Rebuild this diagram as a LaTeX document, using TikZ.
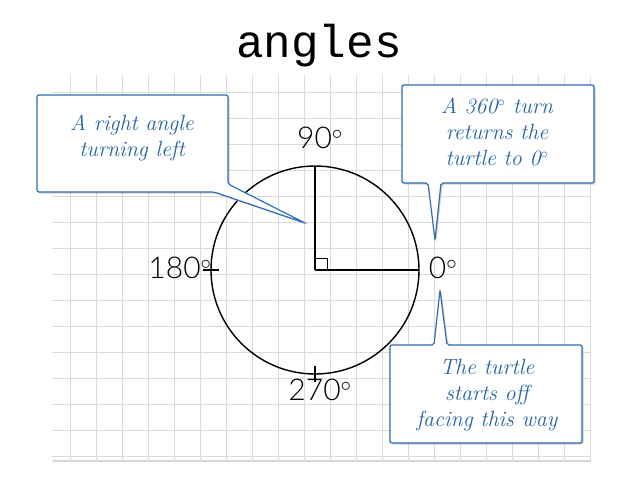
\documentclass[tikz,border=0pt]{standalone}
\usepackage{fontspec}
\newfontfamily\monof{Liberation Mono}
\newfontfamily\handf{Lato Light}
\usetikzlibrary{shadows}
\definecolor{cblue}{HTML}{2F6DB5}
\definecolor{tblue}{HTML}{2563A8}
\tikzset{
  callout/.style={draw=cblue, line width=1.2pt, fill=white, rounded corners=2pt, drop shadow={shadow xshift=1.5pt, shadow yshift=-1.5pt, opacity=0.35}},
  ctext/.style={text=tblue, font=\itshape\fontsize{22}{26}\selectfont, align=center},
  deg/.style={font=\handf\fontsize{30}{32}\selectfont},
  gridl/.style={draw=black!14, line width=0.8pt}
}
\begin{document}
\begin{tikzpicture}[x=1pt,y=-1pt]
\useasboundingbox (0,0) rectangle (638,479);
\fill[white] (0,0) rectangle (638,479);
% paper
\fill[white, drop shadow={shadow xshift=1pt, shadow yshift=-2pt, opacity=0.3}] (52,75) rectangle (590,460);
\begin{scope}
\clip (52,75) rectangle (590,460);
\foreach \x in {70,96,...,590} \draw[gridl] (\x,75) -- (\x,460);
\foreach \y in {92,118,...,460} \draw[gridl] (52,\y) -- (590,\y);
\end{scope}
\node[font=\monof\fontsize{46}{50}\selectfont] (title) at (319,46) {angles};
% circle
\coordinate (c) at (315,270);
\draw[line width=1.4pt] (c) circle (104);
\coordinate (top) at (315,166);
\coordinate (right) at (419,270);
\draw[line width=1.3pt] (c) -- (top);
\draw[line width=1.3pt] (c) -- (right);
\draw[line width=1pt] (315,258) -- (327,258) -- (327,270);
\draw[line width=1.3pt] (203,270) -- (219,270);
\draw[line width=1.3pt] (315,366) -- (315,382);
\node[deg] (d90) at (320,138) {90$^{\circ}$};
\node[deg] (d180) at (180,268) {180$^{\circ}$};
\node[deg] (d0) at (443,268) {0$^{\circ}$};
\node[deg] (d270) at (320,390) {270$^{\circ}$};
% callouts
\draw[callout] (37,95) -- (228,95) -- (228,184) -- (305,223) -- (214,192) -- (37,192) -- cycle;
\node[ctext] (t1) at (132,138) {A right angle\\turning left};
\draw[callout] (402,85) -- (594,85) -- (594,183) -- (441,183) -- (435,240) -- (428,183) -- (402,183) -- cycle;
\node[ctext] (t2) at (497,132) {A 360$^{\circ}$ turn\\returns the\\turtle to 0$^{\circ}$};
\draw[callout] (390,345) -- (434,345) -- (440,290) -- (447,345) -- (582,345) -- (582,443) -- (390,443) -- cycle;
\node[ctext] (t3) at (487,395) {The turtle\\starts off\\facing this way};
\end{tikzpicture}
\end{document}
